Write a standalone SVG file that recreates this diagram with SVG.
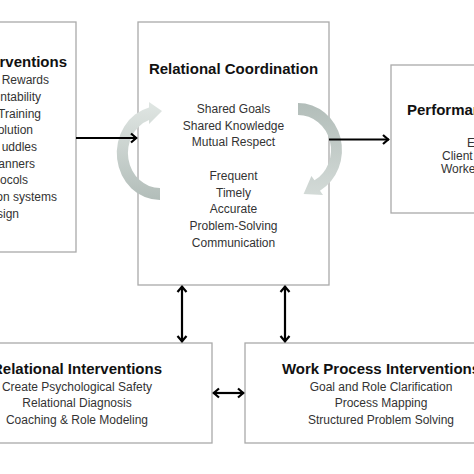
<svg xmlns="http://www.w3.org/2000/svg" width="474" height="474" viewBox="0 0 474 474">
<style>
.box{fill:#fff;stroke:#aaa;stroke-width:1.3}
.t{font-family:"Liberation Sans",Arial,sans-serif;font-size:12px;fill:#333}
.h{font-family:"Liberation Sans",Arial,sans-serif;font-size:15px;font-weight:bold;fill:#111}
.c{text-anchor:middle}
.e{text-anchor:end}
.con{stroke:#000;stroke-width:2.2;fill:none}
</style>
<defs>
<marker id="ah" markerUnits="userSpaceOnUse" viewBox="-8 -6 10 12" refX="0" refY="0" markerWidth="10" markerHeight="12" orient="auto-start-reverse">
<path d="M-6,-4.5 L-0.8,0 L-6,4.5" fill="none" stroke="#000" stroke-width="2.2"/>
</marker>
<linearGradient id="gl" x1="0" y1="0" x2="0" y2="1">
<stop offset="0" stop-color="#e0e6e3"/>
<stop offset="1" stop-color="#b2bdb9"/>
</linearGradient>
<linearGradient id="gr" x1="0" y1="0" x2="0" y2="1">
<stop offset="0" stop-color="#b2bdb9"/>
<stop offset="1" stop-color="#d3dad7"/>
</linearGradient>
</defs>

<g id="structural">
<rect class="box" x="-100" y="22" width="176" height="230"/>
<text class="h e" x="67" y="67">rventions</text>
<text class="t e" x="49" y="84">Rewards</text>
<text class="t e" x="41" y="101">ntability</text>
<text class="t e" x="41" y="118">Training</text>
<text class="t e" x="33" y="134">olution</text>
<text class="t e" x="37" y="151">uddles</text>
<text class="t e" x="35" y="168">anners</text>
<text class="t e" x="28" y="184">ocols</text>
<text class="t e" x="57" y="201">on systems</text>
<text class="t e" x="19" y="218">sign</text>
</g>

<g id="relational-coordination">
<rect class="box" x="138" y="22" width="191" height="263"/>
<text class="h c" x="233.5" y="74">Relational Coordination</text>
<text class="t c" x="233.5" y="113">Shared Goals</text>
<text class="t c" x="233.5" y="130">Shared Knowledge</text>
<text class="t c" x="233.5" y="146">Mutual Respect</text>
<text class="t c" x="233.5" y="180">Frequent</text>
<text class="t c" x="233.5" y="197">Timely</text>
<text class="t c" x="233.5" y="213">Accurate</text>
<text class="t c" x="233.5" y="230">Problem-Solving</text>
<text class="t c" x="233.5" y="247">Communication</text>
</g>

<g id="performance">
<rect class="box" x="391" y="65" width="120" height="148"/>
<text class="h" x="407" y="115">Performance</text>
<text class="t" x="467" y="147">E</text>
<text class="t" x="442" y="160">Client</text>
<text class="t" x="441" y="173">Worke</text>
</g>

<g id="relational-interventions">
<rect class="box" x="-100" y="343" width="312" height="100"/>
<text class="h c" x="77" y="374">Relational Interventions</text>
<text class="t c" x="77" y="391">Create Psychological Safety</text>
<text class="t c" x="77" y="407">Relational Diagnosis</text>
<text class="t c" x="77" y="424">Coaching &amp; Role Modeling</text>
</g>

<g id="work-process-interventions">
<rect class="box" x="245" y="343" width="300" height="100"/>
<text class="h c" x="381" y="374">Work Process Interventions</text>
<text class="t c" x="381" y="391">Goal and Role Clarification</text>
<text class="t c" x="381" y="407">Process Mapping</text>
<text class="t c" x="381" y="424">Structured Problem Solving</text>
</g>

<g id="cycle-arrows">
<path d="M160,200 A43,47 0 0 1 149,107.5 L149,102 L162,111 L149,124 L149,120.1 A32,35 0 0 0 160,188 Z" fill="url(#gl)"/>
<path d="M298,103 A44,47 0 0 1 320,190.7 L323,194.9 L303.6,193.9 L311.4,176.1 L314.5,180.3 A33,35 0 0 0 298,115 Z" fill="url(#gr)"/>
</g>

<g id="connectors">
<line class="con" x1="76" y1="138" x2="137" y2="138" marker-end="url(#ah)"/>
<line class="con" x1="329" y1="139.5" x2="389" y2="139.5" marker-end="url(#ah)"/>
<line class="con" x1="182" y1="286" x2="182" y2="342" marker-start="url(#ah)" marker-end="url(#ah)"/>
<line class="con" x1="285" y1="286" x2="285" y2="342" marker-start="url(#ah)" marker-end="url(#ah)"/>
<line class="con" x1="213" y1="393" x2="244" y2="393" marker-start="url(#ah)" marker-end="url(#ah)"/>
</g>
</svg>
